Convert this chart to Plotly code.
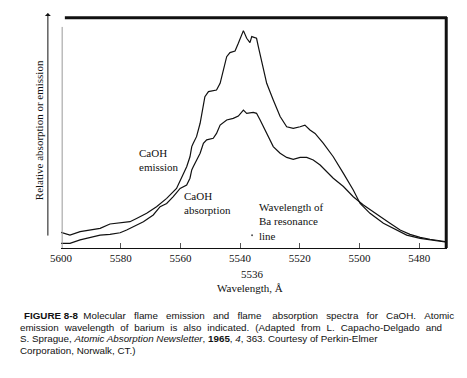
import plotly.graph_objects as go

# CaOH emission spectrum (wavelength in Å, relative intensity)
emission_wl = [5600, 5597.0, 5593.6, 5590.3, 5586.9, 5583.6, 5580.2, 5576.9, 5574.7, 5571.3,
               5568.0, 5564.6, 5561.3, 5559.6, 5557.9, 5556.8, 5556.2, 5555.7, 5554.6, 5553.4,
               5552.3, 5551.8, 5550.6, 5547.9, 5546.7, 5545.6, 5544.5, 5543.4, 5541.7, 5540.6,
               5538.9, 5537.8, 5536.7, 5536.1, 5534.5, 5533.9, 5532.2, 5531.1, 5528.9, 5526.6,
               5524.4, 5522.2, 5519.9, 5518.3, 5516.6, 5514.9, 5512.1, 5508.8, 5505.4, 5502.1,
               5499.8, 5496.5, 5492.0, 5487.5, 5484.2, 5479.7, 5475.3, 5470.8]
emission_val = [6.8, 5.6, 7.1, 7.8, 8.5, 10.4, 11.0, 11.4, 12.8, 15.0,
                17.9, 21.5, 25.8, 30.2, 35.2, 39.5, 43.9, 45.3, 48.2, 54.0,
                61.2, 65.5, 67.7, 68.4, 71.3, 77.1, 82.8, 84.6, 85.3, 88.6,
                94.1, 90.8, 88.9, 91.5, 90.8, 87.2, 77.1, 71.3, 64.1, 56.9,
                52.5, 51.8, 52.5, 53.2, 51.1, 49.6, 45.3, 39.5, 32.3, 25.1,
                19.3, 15.0, 10.7, 7.8, 5.6, 4.2, 3.2, 2.5]

# CaOH absorption spectrum
absorption_wl = [5600, 5597.0, 5593.6, 5590.3, 5586.9, 5583.6, 5580.2, 5578.0, 5575.8, 5572.4,
                 5569.1, 5566.8, 5564.6, 5562.4, 5560.1, 5557.9, 5556.8, 5556.2, 5555.7, 5554.6,
                 5553.4, 5552.3, 5551.2, 5549.0, 5547.9, 5546.7, 5544.5, 5542.3, 5540.6, 5538.9,
                 5537.8, 5535.6, 5534.5, 5533.3, 5531.1, 5528.9, 5526.6, 5524.4, 5522.2, 5519.9,
                 5517.7, 5515.5, 5513.2, 5511.0, 5508.8, 5505.4, 5502.1, 5498.7, 5496.5, 5493.1,
                 5489.8, 5486.4, 5483.1, 5479.7, 5476.4, 5470.8]
absorption_val = [2.0, 2.0, 3.5, 4.6, 5.6, 5.9, 6.6, 7.8, 9.2, 11.4,
                  14.3, 17.9, 19.3, 22.2, 25.8, 27.3, 30.2, 33.8, 35.2, 38.1,
                  41.0, 45.3, 46.8, 47.5, 49.6, 53.2, 55.4, 56.1, 57.1, 59.7,
                  58.3, 58.7, 58.3, 55.4, 49.6, 43.9, 41.0, 39.2, 38.4, 39.2,
                  39.2, 38.1, 35.9, 33.0, 30.2, 26.6, 22.2, 18.6, 16.5, 13.6,
                  10.7, 7.8, 5.9, 4.6, 3.8, 2.7]

tick_vals = [5600, 5580, 5560, 5540, 5520, 5500, 5480]
ba_line_wl = 5536

serif = "Liberation Serif"
sans = "Liberation Sans"
ink = "#111111"

fig = go.Figure()
fig.add_trace(go.Scatter(x=emission_wl, y=emission_val, mode="lines",
                         line=dict(color=ink, width=1.2), showlegend=False, hoverinfo="skip"))
fig.add_trace(go.Scatter(x=absorption_wl, y=absorption_val, mode="lines",
                         line=dict(color=ink, width=1.2), showlegend=False, hoverinfo="skip"))
fig.add_trace(go.Scatter(x=[ba_line_wl], y=[5.5], mode="markers",
                         marker=dict(color="#555", size=2), showlegend=False, hoverinfo="skip"))

fig.update_layout(
    width=467, height=378,
    margin=dict(l=61, r=20, t=17, b=130),
    paper_bgcolor="white", plot_bgcolor="white",
    xaxis=dict(range=[5600, 5470.7], tickvals=tick_vals, ticktext=[str(v) for v in tick_vals],
               ticks="inside", ticklen=5, tickcolor="#555", tickwidth=1,
               showline=True, linecolor=ink, linewidth=1, mirror=False,
               showgrid=False, zeroline=False,
               tickfont=dict(family=serif, size=11, color=ink)),
    yaxis=dict(range=[0, 100], visible=False, showgrid=False, zeroline=False),
    shapes=[
        dict(type="line", xref="paper", yref="paper", x0=0.01, x1=1.0, y0=0.997, y1=0.997,
             line=dict(color=ink, width=3)),
        dict(type="line", xref="paper", yref="paper", x0=0.998, x1=0.998, y0=0, y1=1.0,
             line=dict(color=ink, width=3)),
        dict(type="line", xref="paper", yref="paper", x0=0.003, x1=0.003, y0=0, y1=0.957,
             line=dict(color="#999", width=1)),
    ],
)

ann = []
# y-axis arrow
ann.append(dict(xref="paper", yref="paper", x=-0.034, y=1.017, ax=0, ay=224,
                axref="pixel", ayref="pixel", text="", showarrow=True,
                arrowhead=1, arrowsize=1, arrowwidth=1, arrowcolor=ink))
ann.append(dict(xref="paper", yref="paper", x=-0.057, y=0.51, xanchor="center", yanchor="middle",
                text="Relative absorption or emission",
                textangle=-90, showarrow=False, font=dict(family=serif, size=11, color=ink)))
# curve labels
ann.append(dict(x=5574.4, y=38.3, text="CaOH<br>emission", xanchor="left", align="left",
                showarrow=False, font=dict(family=serif, size=11, color=ink)))
ann.append(dict(x=5559.6, y=19.3, text="CaOH<br>absorption", xanchor="left", align="left",
                showarrow=False, font=dict(family=serif, size=11, color=ink)))
ann.append(dict(x=5534.3, y=11.3, text="Wavelength of<br>Ba resonance<br>line", xanchor="left",
                align="left", showarrow=False, font=dict(family=serif, size=11, color=ink)))
# Ba line wavelength label and axis title
ann.append(dict(x=ba_line_wl, xref="x", yref="paper", y=(248 - 282) / 231, text=str(ba_line_wl),
                xanchor="center", showarrow=False, font=dict(family=serif, size=11, color=ink)))
ann.append(dict(x=0.49, xref="paper", yref="paper", y=(248 - 296) / 231, text="Wavelength, Å",
                xanchor="center", showarrow=False, font=dict(family=serif, size=11, color=ink)))

# justified first two caption lines: widened word gaps
words1 = "Molecular flame emission and flame absorption spectra for CaOH. Atomic".split(" ")
gaps1 = ["\u00a0\u00a0\u00a0\u00a0" if i == 4 else "\u00a0\u00a0\u00a0" for i in range(len(words1) - 1)]
line1 = "<b>FIGURE 8-8</b>\u00a0\u00a0" + "".join(w + g for w, g in zip(words1, gaps1 + [""]))
line2 = " \u2004".join("emission wavelength of barium is also indicated. (Adapted from L. Capacho-Delgado and".split(" "))
caption = [
    (22, 315.5, line1),
    (18, 327, line2),
    (18, 338.5, "S. Sprague, <i>Atomic Absorption Newsletter</i>, <b>1965</b>, <i>4</i>, 363. Courtesy of Perkin-Elmer"),
    (18, 350, "Corporation, Norwalk, CT.)"),
]
for px, py, txt in caption:
    ann.append(dict(xref="paper", yref="paper", x=(px - 61) / 386, y=(248 - py) / 231,
                    xanchor="left", yanchor="middle", text=txt, showarrow=False, align="left",
                    font=dict(family=sans, size=9.8, color=ink)))

fig.update_layout(annotations=ann)
fig.write_html("out.html", config={"displayModeBar": False},
               post_script="document.body.style.margin='0';")
